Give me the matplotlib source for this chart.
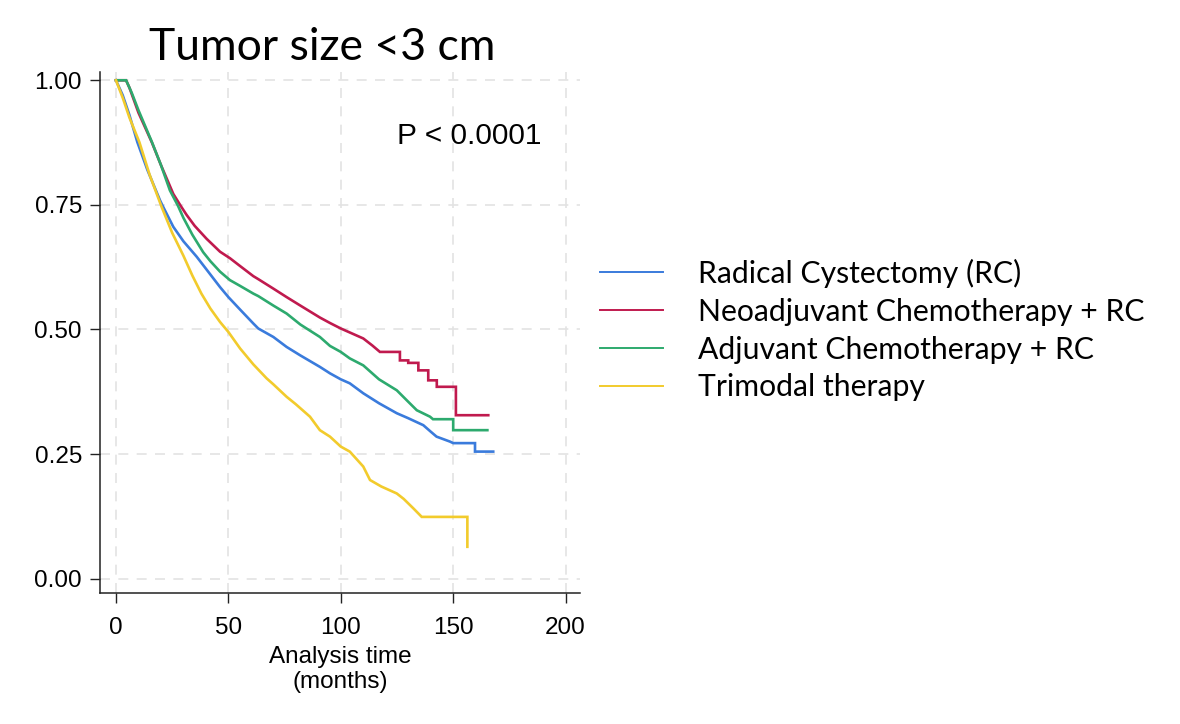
import matplotlib
matplotlib.use("Agg")
import matplotlib.pyplot as plt
from matplotlib.lines import Line2D

# ---- data ----
labels = ["Radical Cystectomy (RC)", "Neoadjuvant Chemotherapy + RC",
          "Adjuvant Chemotherapy + RC", "Trimodal therapy"]
colors = ["#3A7BDC", "#C01A4E", "#2DAA6E", "#F2CB2C"]

rc_t = [0, 3, 6, 9.5, 14, 19.6, 21, 25.5, 30, 35.9, 40, 46.3, 50, 55.2, 61.1, 63.3, 70, 75.9,
        82, 90.7, 95.2, 100, 104, 110, 117, 124.9, 130, 136.7, 140, 142.6, 148.6, 150,
        159.7, 159.7, 167.8]
rc_s = [1.0, 0.97, 0.93, 0.876, 0.82, 0.759, 0.746, 0.706, 0.677, 0.646, 0.622, 0.585, 0.565,
        0.54, 0.512, 0.502, 0.485, 0.465, 0.448, 0.425, 0.412, 0.40, 0.392, 0.372, 0.352,
        0.332, 0.322, 0.308, 0.295, 0.285, 0.275, 0.272, 0.272, 0.255, 0.255]

nac_t = [0, 4.5, 6, 10, 16, 20, 25.5, 28.8, 31.4, 35, 40.3, 46.3, 50.7, 55, 61.1, 63.3, 70,
         75.9, 82, 90.7, 95.2, 100, 104, 110, 114, 117.4, 126.3, 126.3, 130, 130, 134.5,
         134.5, 138.9, 138.9, 142.7, 142.7, 151.2, 151.2, 165.6]
nac_s = [1.0, 1.0, 0.985, 0.935, 0.875, 0.83, 0.772, 0.748, 0.73, 0.708, 0.682, 0.656, 0.643,
         0.628, 0.607, 0.601, 0.582, 0.565, 0.548, 0.524, 0.513, 0.502, 0.494, 0.482, 0.468,
         0.455, 0.455, 0.438, 0.438, 0.433, 0.433, 0.418, 0.418, 0.398, 0.398, 0.385, 0.385,
         0.328, 0.328]

ac_t = [0, 4.5, 7, 10, 16, 20, 24, 27.6, 30, 34, 38.8, 42, 46.3, 50.7, 55, 61.1, 63.3, 70,
        75.9, 82, 90.7, 95.2, 100, 104, 110, 117, 124.9, 130, 133.8, 139.7, 141, 150, 150,
        165.2]
ac_s = [1.0, 1.0, 0.975, 0.94, 0.876, 0.83, 0.779, 0.748, 0.724, 0.69, 0.655, 0.637, 0.616,
        0.599, 0.588, 0.572, 0.567, 0.548, 0.532, 0.51, 0.485, 0.467, 0.455, 0.442, 0.428,
        0.40, 0.378, 0.355, 0.338, 0.325, 0.32, 0.32, 0.298, 0.298]

tmt_t = [0, 3, 6, 10.4, 15, 20.3, 25, 30, 34, 38, 42, 46.3, 50, 55.2, 61.1, 67, 70, 75.9,
         80, 86.3, 90.7, 95.2, 100, 104, 110, 113, 118, 124.9, 128, 132.3, 136, 156.3, 156.3]
tmt_s = [1.0, 0.965, 0.925, 0.876, 0.81, 0.746, 0.694, 0.648, 0.608, 0.572, 0.542, 0.515,
         0.495, 0.462, 0.43, 0.402, 0.39, 0.365, 0.35, 0.325, 0.298, 0.285, 0.265, 0.255,
         0.225, 0.198, 0.185, 0.171, 0.16, 0.141, 0.124, 0.124, 0.064]

x_ticks = [0, 50, 100, 150, 200]
y_ticks = [0.0, 0.25, 0.50, 0.75, 1.00]
y_ticklabels = ["0.00", "0.25", "0.50", "0.75", "1.00"]

series = [(rc_t, rc_s), (nac_t, nac_s), (ac_t, ac_s), (tmt_t, tmt_s)]

# ---- figure ----
W, H = 1180, 724
fig = plt.figure(figsize=(W / 100, H / 100), dpi=100)
ax = fig.add_axes([100 / W, 1 - 593 / H, 480 / W, (593 - 72) / H])

for (t, s), c in zip(series, colors):
    ax.plot(t, s, color=c, lw=1.9, solid_joinstyle="miter")

ax.set_xlim(-7.1, 206.4)
ax.set_ylim(-0.0287, 1.0166)
ax.set_xticks(x_ticks)
ax.set_yticks(y_ticks)
ax.set_yticklabels(y_ticklabels)
ax.grid(True, color="#e3e3e3", lw=1.2, ls=(0, (6, 5)))
ax.set_axisbelow(True)
for sp in ["top", "right"]:
    ax.spines[sp].set_visible(False)
for sp in ["left", "bottom"]:
    ax.spines[sp].set_color("#222222")
    ax.spines[sp].set_linewidth(1.1)
ax.tick_params(axis="both", direction="out", length=7, width=1.0, color="#222222",
               labelsize=17.5)
ax.tick_params(axis="y", pad=6)
ax.tick_params(axis="x", pad=10)
for lab in ax.get_xticklabels() + ax.get_yticklabels():
    lab.set_fontfamily("Liberation Sans")
ax.set_xlabel("Analysis time\n(months)", fontsize=17.5, family="Liberation Sans",
              linespacing=1.2, labelpad=5)

ax.text(397 / W, 1 - 136 / H, "P < 0.0001", transform=fig.transFigure,
        fontsize=21.5, family="Liberation Sans", va="center", ha="left")

fig.text(322 / W, 1 - 47 / H, "Tumor size <3 cm", fontsize=32, family="Lato",
         ha="center", va="center")

handles = [Line2D([], [], color=c, lw=1.4) for c in colors]
fs = 21.7
fpx = fs * 100 / 72
fig.legend(handles, labels, loc="center left", bbox_to_anchor=(600 / W, 1 - 330 / H),
           frameon=False, prop={"family": "Lato", "size": fs},
           borderaxespad=0, borderpad=0,
           handlelength=63 / fpx, handletextpad=35 / fpx, labelspacing=0.33)

fig.savefig("out.png", dpi=100, facecolor="white")
